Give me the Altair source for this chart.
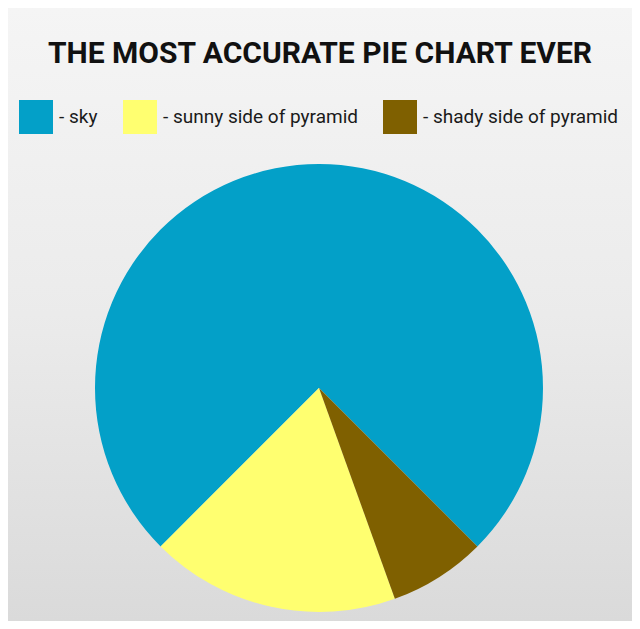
import math
import altair as alt
import pandas as pd

# ---- data ----
categories = ["sky", "sunny side of pyramid", "shady side of pyramid"]
shares = [75, 18, 7]            # percent of the pie
slice_order = [3, 2, 1]         # shady first, then sunny, then sky (clockwise)
colors = ["#03a0c8", "#ffff70", "#7f6000"]

title_text = "THE MOST ACCURATE PIE CHART EVER"

df = pd.DataFrame({"category": categories, "share": shares, "ord": slice_order})

W, H, TOP = 624, 533, 80
start = math.radians(135)

FONT = "Roboto, 'Liberation Sans', sans-serif"

bg = alt.Chart(alt.Data(values=[{"k": 1}])).mark_rect(
    color=alt.Gradient(
        gradient="linear",
        stops=[alt.GradientStop(color="#f5f5f5", offset=0),
               alt.GradientStop(color="#ebebeb", offset=0.5),
               alt.GradientStop(color="#dadada", offset=1)],
        x1=0, x2=0, y1=0, y2=1,
    )
).encode(
    x=alt.value(0), x2=alt.value(W), y=alt.value(-TOP), y2=alt.value(H)
)

pie = alt.Chart(df).mark_arc(radius=224, strokeWidth=0).encode(
    theta=alt.Theta("share:Q", stack=True,
                    scale=alt.Scale(range=[start, start + 2 * math.pi])),
    color=alt.Color(
        "category:N",
        scale=alt.Scale(domain=categories, range=colors),
        legend=alt.Legend(
            title=None,
            orient="none",
            legendX=11,
            legendY=12,
            direction="horizontal",
            symbolType="square",
            symbolSize=1156,
            symbolStrokeWidth=0,
            symbolOpacity=1,
            labelExpr="'- ' + datum.label",
            labelFont=FONT,
            labelFontSize=19,
            labelColor="#1a1a1a",
            labelOffset=6,
            labelLimit=400,
            columnPadding=25,
        ),
    ),
    order=alt.Order("ord:Q"),
    x=alt.value(311),
    y=alt.value(300),
)

chart = alt.layer(bg, pie).properties(
    width=W,
    height=H,
    padding={"left": 0, "right": 0, "top": TOP, "bottom": 0},
    autosize=alt.AutoSizeParams(type="none"),
    background="#f5f5f5",
    title=alt.TitleParams(
        text=title_text,
        font=FONT,
        fontSize=30,
        fontWeight="bold",
        color="#111111",
        anchor="middle",
        baseline="alphabetic",
        offset=-85,
    ),
).configure_view(stroke=None)

chart.save("out.html", embed_options={"renderer": "svg", "actions": False})
